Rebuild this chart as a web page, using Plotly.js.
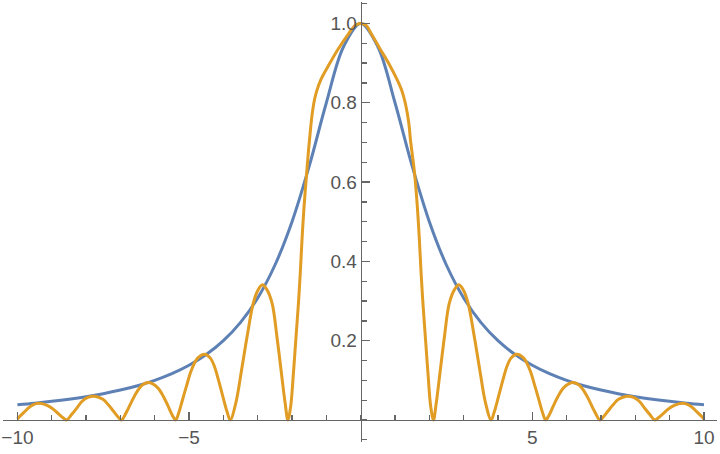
<!DOCTYPE html>
<html>
<head>
<meta charset="utf-8">
<script src="https://cdn.plot.ly/plotly-3.0.1.min.js"></script>
<style>html,body{margin:0;padding:0;background:#fff;}#chart{width:720px;height:454px;}</style>
</head>
<body>
<div id="chart"></div>
<script>
// Blue curve
const blueX = [-10,-9.5,-9,-8.5,-8,-7.5,-7,-6.5,-6,-5.5,-5,-4.5,-4,-3.5,-3,-2.5,-2,-1.5,-1,-0.5,0,
               0.5,1,1.5,2,2.5,3,3.5,4,4.5,5,5.5,6,6.5,7,7.5,8,8.5,9,9.5,10];
const blueY = [0.0385,0.0424,0.0471,0.0525,0.0588,0.0664,0.0755,0.0865,0.100,0.1168,0.1379,0.1649,0.200,0.2462,0.3077,0.3902,0.500,0.640,0.800,0.9412,1.000,
               0.9412,0.800,0.640,0.500,0.3902,0.3077,0.2462,0.200,0.1649,0.1379,0.1168,0.100,0.0865,0.0755,0.0664,0.0588,0.0525,0.0471,0.0424,0.0385];

// Orange curve
const orangeX = [
  -10,-9.87,-9.72,-9.55,-9.36,-9.12,-8.94,-8.81,-8.66,-8.57,
  -8.41,-8.27,-8.13,-7.95,-7.75,-7.51,-7.34,-7.20,-7.06,-6.97,
  -6.80,-6.67,-6.52,-6.35,-6.14,-5.91,-5.74,-5.61,-5.48,-5.39,
  -5.30,-5.22,-5.08,-4.93,-4.75,-4.54,-4.38,-4.26,-4.15,-4.02,-3.89,-3.80,
  -3.64,-3.47,-3.31,-3.13,-2.99,-2.86,-2.74,-2.58,-2.44,-2.32,-2.20,-2.12,
  -2.04,-1.96,-1.89,-1.82,-1.76,-1.71,-1.65,-1.59,-1.52,-1.46,-1.40,-1.34,-1.28,-1.15,-0.93,-0.66,-0.37,-0.16,0,
  0.16,0.30,0.57,0.83,1.05,1.20,1.31,1.40,1.45,1.51,1.57,1.65,1.71,1.76,1.82,1.89,1.96,2.04,
  2.12,2.20,2.32,2.44,2.58,2.74,2.86,2.99,3.13,3.31,3.47,3.64,3.80,
  3.89,4.02,4.15,4.26,4.38,4.54,4.75,4.93,5.08,5.22,5.30,5.39,
  5.48,5.61,5.74,5.91,6.14,6.35,6.52,6.67,6.80,6.97,
  7.06,7.20,7.34,7.51,7.75,7.95,8.13,8.27,8.41,8.57,
  8.66,8.81,8.94,9.12,9.36,9.55,9.72,9.87,10
];
const orangeY = [
  0.003,0.014,0.027,0.038,0.042,0.036,0.026,0.016,0.005,0.0,
  0.015,0.030,0.046,0.057,0.060,0.052,0.037,0.022,0.007,0.0,
  0.024,0.047,0.071,0.089,0.094,0.081,0.058,0.035,0.011,0.0,
  0.018,0.042,0.084,0.126,0.156,0.166,0.156,0.135,0.103,0.061,0.020,0.0,
  0.042,0.126,0.210,0.294,0.328,0.341,0.330,0.294,0.210,0.126,0.042,0.0,
  0.034,0.118,0.202,0.286,0.370,0.454,0.538,0.605,0.680,0.735,0.780,0.810,0.830,0.860,0.895,0.935,0.972,0.995,1.0,
  0.995,0.975,0.935,0.897,0.860,0.830,0.795,0.750,0.706,0.665,0.622,0.538,0.454,0.370,0.286,0.202,0.118,0.034,
  0.0,0.042,0.126,0.210,0.294,0.330,0.341,0.328,0.294,0.210,0.126,0.042,0.0,
  0.020,0.061,0.103,0.135,0.156,0.166,0.156,0.126,0.084,0.042,0.018,0.0,
  0.011,0.035,0.058,0.081,0.094,0.089,0.071,0.047,0.024,0.0,
  0.007,0.022,0.037,0.052,0.060,0.057,0.046,0.030,0.015,0.0,
  0.005,0.016,0.026,0.036,0.042,0.038,0.027,0.014,0.003
];

const xTickVals = [-10, -5, 5, 10];
const xTickText = ["\u221210", "\u22125", "5", "10"];
const yTickVals = [0.2, 0.4, 0.6, 0.8, 1.0];
const yTickText = ["0.2", "0.4", "0.6", "0.8", "1.0"];

const xRange = [-10.42, 10.38];
const yRange = [-0.0555, 1.054];

const axisColor = '#666666';
const tickFont = {family: 'Liberation Sans, Arial, sans-serif', size: 19, color: '#555555'};

const traces = [
  {x: blueX, y: blueY, type: 'scatter', mode: 'lines',
   line: {color: '#5E81B5', width: 3, shape: 'spline', smoothing: 1}, hoverinfo: 'skip'},
  {x: orangeX, y: orangeY, type: 'scatter', mode: 'lines',
   line: {color: '#E19C24', width: 3, shape: 'spline', smoothing: 1}, hoverinfo: 'skip'}
];

const layout = {
  width: 720, height: 454,
  margin: {l: 3, r: 3, t: 2, b: 12},
  paper_bgcolor: '#ffffff', plot_bgcolor: '#ffffff',
  showlegend: false,
  xaxis: {
    range: xRange, anchor: 'free',
    position: (0 - yRange[0]) / (yRange[1] - yRange[0]),
    showline: true, linecolor: axisColor, linewidth: 1.3,
    showgrid: false, zeroline: false,
    tickmode: 'array', tickvals: xTickVals, ticktext: xTickText,
    ticks: 'inside', ticklen: 8, tickwidth: 1.3, tickcolor: axisColor,
    minor: {tickmode: 'linear', tick0: 0, dtick: 1, ticks: 'inside', ticklen: 5, tickwidth: 1.3, tickcolor: axisColor, showgrid: false},
    tickfont: tickFont
  },
  yaxis: {
    range: yRange, anchor: 'free',
    position: (0 - xRange[0]) / (xRange[1] - xRange[0]),
    showline: true, linecolor: axisColor, linewidth: 1.3,
    showgrid: false, zeroline: false,
    tickmode: 'array', tickvals: yTickVals, ticktext: yTickText,
    ticks: 'inside', ticklen: 8, tickwidth: 1.3, tickcolor: axisColor,
    minor: {tickmode: 'linear', tick0: 0, dtick: 0.05, ticks: 'inside', ticklen: 5, tickwidth: 1.3, tickcolor: axisColor, showgrid: false},
    tickfont: tickFont
  }
};

Plotly.newPlot('chart', traces, layout, {displayModeBar: false, staticPlot: true});
</script>
</body>
</html>
